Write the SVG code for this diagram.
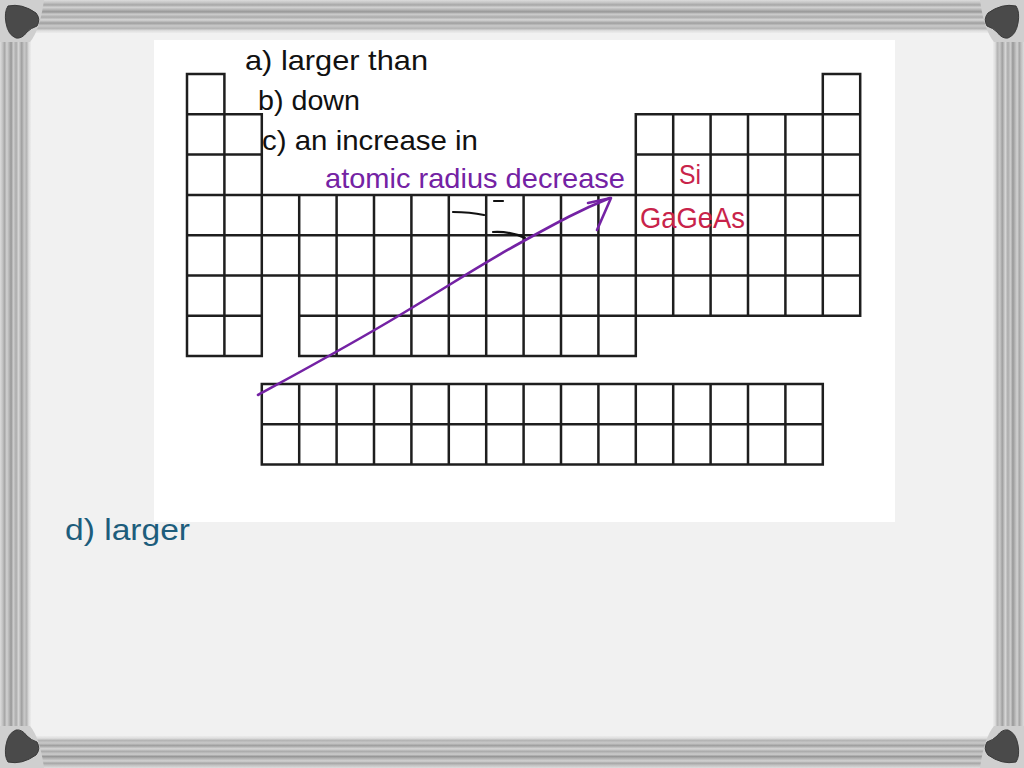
<svg xmlns="http://www.w3.org/2000/svg" width="1024" height="768" viewBox="0 0 1024 768">
<defs>
<linearGradient id="fh" x1="0" y1="0" x2="0" y2="1">
<stop offset="0" stop-color="#dcdcdc"/><stop offset="0.08" stop-color="#c4c4c4"/><stop offset="0.15" stop-color="#a6a6a6"/><stop offset="0.22" stop-color="#d2d2d2"/><stop offset="0.3" stop-color="#b2b2b2"/><stop offset="0.36" stop-color="#979797"/><stop offset="0.43" stop-color="#cdcdcd"/><stop offset="0.52" stop-color="#ababab"/><stop offset="0.6" stop-color="#d6d6d6"/><stop offset="0.7" stop-color="#9f9f9f"/><stop offset="0.78" stop-color="#c9c9c9"/><stop offset="0.86" stop-color="#b4b4b4"/><stop offset="0.93" stop-color="#dedede"/><stop offset="1" stop-color="#ececec"/>
</linearGradient>
<linearGradient id="fv" x1="0" y1="0" x2="1" y2="0">
<stop offset="0" stop-color="#dcdcdc"/><stop offset="0.08" stop-color="#c4c4c4"/><stop offset="0.15" stop-color="#a6a6a6"/><stop offset="0.22" stop-color="#d2d2d2"/><stop offset="0.3" stop-color="#b2b2b2"/><stop offset="0.36" stop-color="#979797"/><stop offset="0.43" stop-color="#cdcdcd"/><stop offset="0.52" stop-color="#ababab"/><stop offset="0.6" stop-color="#d6d6d6"/><stop offset="0.7" stop-color="#9f9f9f"/><stop offset="0.78" stop-color="#c9c9c9"/><stop offset="0.86" stop-color="#b4b4b4"/><stop offset="0.93" stop-color="#dedede"/><stop offset="1" stop-color="#ececec"/>
</linearGradient>
<g id="corner">
<path d="M0,0 H44 Q40,30 30,42 H0 Z" fill="#cfcfcf"/>
<path d="M8,6 Q22,3 36,13 Q41,19 37,26 Q31,28 27,32 Q22,39 16,38 Q8,35 6,23 Q4,12 8,6 Z" fill="#4a4a4a" stroke="#3a3a3a" stroke-width="1"/>
</g>
</defs>
<style>
.grid{fill:none;stroke:#1e1e1e;stroke-width:2.5;stroke-linecap:square}
.hw{font-family:"Liberation Sans","DejaVu Sans",sans-serif;font-weight:normal}
.blk{fill:#111111}
.pur{fill:#7422a4}
.red{fill:#c8234a}
.teal{fill:#1d5d7c}
</style>
<g id="board">
<rect x="0" y="0" width="1024" height="768" fill="#f1f1f1"/>
<rect x="154" y="40" width="741" height="482" fill="#ffffff"/>
</g>
<g id="frame">
<rect x="0" y="0" width="1024" height="33" fill="url(#fh)"/>
<rect x="0" y="736" width="1024" height="32" fill="url(#fh)" transform="translate(0,1504) scale(1,-1)"/>
<rect x="0" y="0" width="31" height="768" fill="url(#fv)"/>
<rect x="993" y="0" width="31" height="768" fill="url(#fv)" transform="translate(2017,0) scale(-1,1)"/>
<use href="#corner"/>
<use href="#corner" transform="translate(1024,0) scale(-1,1)"/>
<use href="#corner" transform="translate(0,768) scale(1,-1)"/>
<use href="#corner" transform="translate(1024,768) scale(-1,-1)"/>
</g>
<g id="main-table">
<path class="grid" d="M187,74 H224.4 M822.8,74 H860.2
M187,114.3 H261.8 M635.8,114.3 H860.2
M187,154.6 H261.8 M635.8,154.6 H860.2
M187,194.9 H860.2 M187,235.2 H860.2 M187,275.5 H860.2
M187,315.8 H261.8 M299.2,315.8 H860.2
M187,356.1 H261.8 M299.2,356.1 H635.8
M187,74 V356.1 M224.4,74 V356.1 M261.8,114.3 V356.1
M299.2,194.9 V356.1 M336.6,194.9 V356.1 M374,194.9 V356.1 M411.4,194.9 V356.1 M448.8,194.9 V356.1 M486.2,194.9 V356.1 M523.6,194.9 V356.1 M561,194.9 V356.1 M598.4,194.9 V356.1
M635.8,114.3 V356.1
M673.2,114.3 V315.8 M710.6,114.3 V315.8 M748,114.3 V315.8 M785.4,114.3 V315.8
M822.8,74 V315.8 M860.2,74 V315.8"/>
</g>
<g id="f-block">
<path class="grid" d="M261.8,384 H822.8 M261.8,424.3 H822.8 M261.8,464.6 H822.8
M261.8,384 V464.6 M299.2,384 V464.6 M336.6,384 V464.6 M374,384 V464.6 M411.4,384 V464.6 M448.8,384 V464.6 M486.2,384 V464.6 M523.6,384 V464.6 M561,384 V464.6 M598.4,384 V464.6 M635.8,384 V464.6 M673.2,384 V464.6 M710.6,384 V464.6 M748,384 V464.6 M785.4,384 V464.6 M822.8,384 V464.6"/>
</g>
<g id="marks">
<path d="M453,212 Q470,212 484,215 M494,201 L503,201 M493,232 Q510,231 525,238" fill="none" stroke="#111" stroke-width="2.2" stroke-linecap="round"/>
</g>
<g id="connectors">
<path d="M258,395 C300,372 350,345 400,315 S480,265 520,243 S580,210 610,198" fill="none" stroke="#7422a4" stroke-width="2.6" stroke-linecap="round"/>
<path d="M588,203 L611,198 L597,230" fill="none" stroke="#7422a4" stroke-width="2.6" stroke-linecap="round" stroke-linejoin="round"/>
</g>
<g id="labels">
<text class="hw blk" x="245" y="70" font-size="28" textLength="183" lengthAdjust="spacingAndGlyphs">a) larger than</text>
<text class="hw blk" x="258" y="110" font-size="28" textLength="102" lengthAdjust="spacingAndGlyphs">b) down</text>
<text class="hw blk" x="262" y="150" font-size="28" textLength="216" lengthAdjust="spacingAndGlyphs">c) an increase in</text>
<text class="hw pur" x="325" y="188" font-size="28" textLength="300" lengthAdjust="spacingAndGlyphs">atomic radius decrease</text>
<text class="hw red" x="679" y="184" font-size="28" textLength="22" lengthAdjust="spacingAndGlyphs">Si</text>
<text class="hw red" x="640" y="228" font-size="30" textLength="105" lengthAdjust="spacingAndGlyphs">GaGeAs</text>
<text class="hw teal" x="65" y="540" font-size="30" textLength="125" lengthAdjust="spacingAndGlyphs">d) larger</text>
</g>
</svg>
